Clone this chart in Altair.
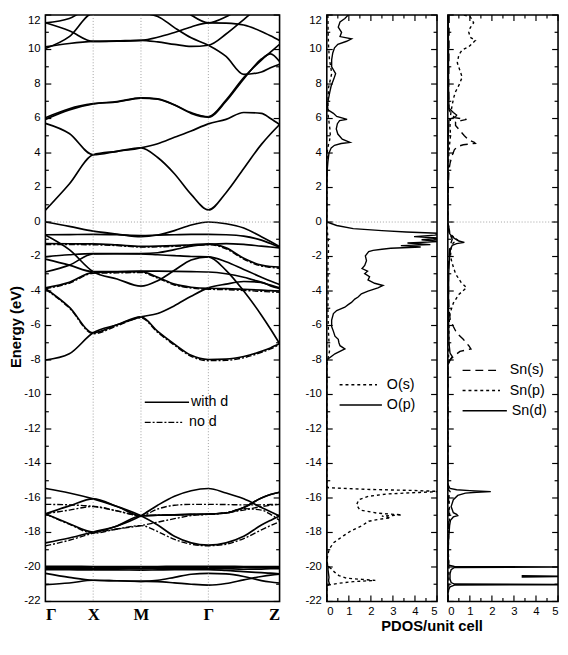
import altair as alt
import pandas as pd

# ---------------- k-path ----------------
kpath_pos = [0, 1, 2, 3.41, 4.9]
kpath_labels = ["Γ", "X", "M", "Γ", "Z"]
k_grid = [0, 0.5, 1, 1.5, 2, 2.35, 2.7, 3.05, 3.41, 3.78, 4.15, 4.52, 4.71, 4.9]

# ---------------- bands "with d" (eV, at k_grid) ----------------
cb1 = [0.68, 2.2, 3.9, 4.1, 4.3, 4.54, 4.91, 5.28, 5.69, 5.95, 6.35, 6.3, 6.0, 5.65]
cb2 = [5.72, 5.13, 3.9, 4.1, 4.3, 3.74, 2.8, 1.6, 0.7, 1.7, 3.1, 4.5, 5.1, 5.65]
cb3 = [6.05, 6.57, 6.86, 6.98, 7.2, 7.14, 6.8, 6.34, 6.1, 7.07, 8.37, 9.39, 9.85, 10.3]
cb4 = [5.95, 6.5, 6.84, 6.96, 7.18, 7.12, 6.78, 6.3, 6.08, 7.0, 8.3, 9.45, 9.75, 9.3]
cb5 = [11.55, 11.8, 12.6, 13.0, 13.0, 13.0, 13.0, 13.0, 13.0, 13.0, 13.0, 13.0, 13.0, 13.0]
cb6 = [11.55, 11.09, 10.47, 10.48, 10.53, 10.71, 10.99, 11.31, 11.55, 11.53, 11.42, 11.05, 10.8, 10.53]
cb7 = [10.06, 10.75, 12.1, 12.1, 12.1, 11.92, 11.27, 10.68, 10.25, 9.6, 8.56, 8.7, 8.95, 9.15]
cb8 = [10.16, 10.35, 10.47, 10.5, 10.53, 10.44, 10.3, 10.18, 10.25, 10.9, 11.74, 12.6, 13.0, 13.2]
cb9 = [13.0, 13.0, 13.0, 13.0, 13.0, 13.0, 12.8, 12.0, 11.55, 11.9, 12.5, 13.0, 13.0, 13.0]

vb1 = [0.0, -0.25, -0.53, -0.7, -0.85, -0.75, -0.5, -0.17, 0.0, -0.1, -0.35, -0.85, -1.13, -1.42]
vb2 = [-0.74, -0.73, -0.72, -0.74, -0.78, -0.76, -0.74, -0.72, -0.72, -0.74, -0.82, -1.05, -1.25, -1.46]
vb3 = [-0.75, -1.6, -2.88, -3.3, -3.72, -3.4, -2.8, -2.2, -2.02, -2.3, -2.75, -3.2, -3.42, -3.62]
vb4 = [-1.25, -1.26, -1.27, -1.33, -1.41, -1.4, -1.37, -1.32, -1.27, -1.5, -2.1, -2.5, -2.58, -2.62]
vb5 = [-2.02, -1.9, -1.83, -1.83, -1.85, -1.9, -1.95, -2.0, -2.02, -2.8, -4.0, -5.4, -6.2, -7.05]
vb6 = [-2.15, -2.5, -2.88, -2.87, -2.85, -2.85, -2.86, -2.88, -2.9, -3.0, -3.2, -3.5, -3.66, -3.82]
vb7 = [-2.9, -2.5, -1.85, -1.84, -1.83, -1.78, -1.6, -1.4, -1.3, -1.25, -1.3, -1.4, -1.45, -1.5]
vb8 = [-3.82, -3.5, -2.92, -2.9, -2.88, -3.2, -3.6, -3.78, -3.85, -3.86, -3.9, -3.95, -3.98, -4.0]
vb9 = [-8.0, -7.64, -6.42, -5.96, -5.5, -5.3, -4.85, -4.3, -3.82, -3.6, -3.45, -3.5, -3.7, -3.85]
vb10 = [-3.85, -4.93, -6.42, -5.96, -5.5, -6.34, -7.08, -7.73, -7.97, -7.95, -7.8, -7.5, -7.3, -7.05]

sc1 = [-15.45, -15.71, -16.05, -16.49, -17.03, -17.57, -18.22, -18.6, -18.73, -18.6, -18.22, -17.57, -17.3, -17.05]
sc2 = [-16.92, -16.46, -16.05, -16.49, -17.03, -17.0, -16.98, -16.95, -16.93, -16.87, -16.55, -16.0, -15.8, -15.67]
sc3 = [-16.92, -17.49, -17.97, -17.62, -17.03, -16.42, -15.9, -15.58, -15.45, -15.71, -16.05, -16.55, -16.8, -17.05]
sc4 = [-18.6, -18.32, -17.97, -17.62, -17.03, -17.0, -16.98, -16.95, -16.93, -16.87, -16.55, -16.0, -15.8, -15.67]

dd1 = [-19.96, -19.96, -19.97, -19.97, -19.97, -19.97, -19.96, -19.96, -19.96, -19.96, -19.97, -19.97, -19.97, -19.97]
dd2 = [-20.02, -20.02, -20.03, -20.03, -20.03, -20.03, -20.02, -20.02, -20.02, -20.02, -20.03, -20.04, -20.04, -20.04]
dd3 = [-20.08, -20.09, -20.1, -20.1, -20.1, -20.1, -20.09, -20.08, -20.08, -20.1, -20.13, -20.12, -20.1, -20.1]
dd4 = [-20.15, -20.16, -20.17, -20.17, -20.18, -20.17, -20.16, -20.16, -20.15, -20.2, -20.27, -20.33, -20.36, -20.4]
dd5 = [-20.37, -20.6, -20.77, -20.8, -20.83, -20.77, -20.6, -20.42, -20.37, -20.4, -20.55, -20.79, -20.87, -20.93]
dd6 = [-21.02, -20.93, -20.77, -20.8, -20.83, -20.85, -20.92, -21.0, -21.05, -20.96, -20.75, -20.55, -20.47, -20.42]

# ---------------- bands "no d" ----------------
nd1 = [-16.37, -16.4, -16.49, -16.75, -17.02, -16.64, -16.42, -16.37, -16.37, -16.38, -16.4, -16.4, -16.38, -16.37]
nd2 = [-16.92, -16.7, -16.49, -16.75, -17.02, -17.0, -16.98, -16.96, -16.95, -16.85, -16.62, -16.7, -16.95, -17.3]
nd3 = [-16.92, -17.52, -18.04, -17.8, -17.6, -17.4, -17.2, -17.02, -16.95, -16.85, -16.7, -16.5, -16.42, -16.37]
nd4 = [-18.78, -18.45, -18.04, -17.8, -17.6, -17.95, -18.4, -18.68, -18.77, -18.68, -18.35, -17.85, -17.6, -17.37]
nv1 = [-1.3, -1.31, -1.32, -1.37, -1.45, -1.44, -1.41, -1.36, -1.32, -1.55, -2.15, -2.55, -2.63, -2.68]
nv2 = [-3.9, -4.98, -6.48, -6.02, -5.56, -6.4, -7.14, -7.79, -8.04, -8.02, -7.87, -7.56, -7.36, -7.1]
nv3 = [-3.87, -3.55, -2.97, -2.95, -2.93, -3.25, -3.65, -3.83, -3.9, -3.92, -3.97, -4.02, -4.05, -4.07]

with_d = [cb1, cb2, cb3, cb4, cb5, cb6, cb7, cb8, cb9,
          vb1, vb2, vb3, vb4, vb5, vb6, vb7, vb8, vb9, vb10,
          sc1, sc2, sc3, sc4, dd1, dd2, dd3, dd4, dd5, dd6]
no_d = [nd1, nd2, nd3, nd4, nv1, nv2, nv3]

# ---------------- PDOS (E eV, states) ----------------
O_s = [(12.0, 0.05), (11.0, 0.06), (10.2, 0.08), (9.4, 0.12), (9.0, 0.18), (8.6, 0.22), (8.2, 0.15),
       (7.8, 0.08), (7.0, 0.05), (6.2, 0.06), (5.8, 0.1), (5.4, 0.14), (5.0, 0.16), (4.7, 0.12),
       (4.5, 0.08), (4.2, 0.03), (3.5, 0.01), (0.7, 0.0), (0.0, 0.0), (-0.6, 0.03), (-1.0, 0.06),
       (-1.5, 0.08), (-2.5, 0.05), (-3.8, 0.06), (-5.0, 0.05), (-6.2, 0.07), (-7.0, 0.1), (-7.5, 0.12),
       (-8.0, 0.04), (-8.3, 0.0), (-15.2, 0.0), (-15.4, 0.05), (-15.5, 1.8), (-15.56, 3.8), (-15.62, 5.2),
       (-15.68, 4.2), (-15.76, 2.8), (-15.9, 1.9), (-16.1, 1.45), (-16.4, 1.35), (-16.7, 1.5),
       (-16.88, 2.3), (-16.98, 3.4), (-17.05, 2.5), (-17.15, 2.9), (-17.25, 2.3), (-17.35, 1.9),
       (-17.6, 1.6), (-17.9, 1.1), (-18.2, 0.75), (-18.6, 0.3), (-19.0, 0.1), (-19.6, 0.0),
       (-19.95, 0.05), (-20.1, 0.2), (-20.3, 0.35), (-20.5, 0.55), (-20.65, 0.9), (-20.72, 1.6),
       (-20.78, 2.2), (-20.85, 1.2), (-20.95, 0.5), (-21.05, 0.08), (-21.2, 0.0), (-22.0, 0.0)]
O_p = [(12.0, 0.97), (11.8, 0.82), (11.6, 0.6), (11.3, 0.52), (11.0, 0.67), (10.75, 0.6), (10.62, 1.12),
       (10.48, 0.9), (10.3, 0.5), (10.1, 0.35), (9.8, 0.27), (9.4, 0.22), (9.0, 0.22), (8.6, 0.4),
       (8.3, 0.32), (7.9, 0.2), (7.5, 0.13), (7.1, 0.07), (6.8, 0.03), (6.5, 0.05), (6.3, 0.3),
       (6.12, 0.45), (5.95, 0.92), (5.88, 0.58), (5.7, 0.48), (5.4, 0.43), (5.1, 0.5), (4.8, 0.7),
       (4.62, 1.05), (4.55, 0.65), (4.45, 0.35), (4.3, 0.2), (4.0, 0.1), (3.5, 0.05), (3.0, 0.02),
       (2.0, 0.0), (0.0, 0.0), (-0.2, 0.45), (-0.38, 1.2), (-0.5, 2.5), (-0.58, 3.6), (-0.66, 5.3),
       (-0.76, 4.9), (-0.85, 3.96), (-0.94, 5.2), (-1.03, 4.3), (-1.13, 5.2), (-1.22, 3.66),
       (-1.31, 4.7), (-1.37, 3.36), (-1.45, 4.26), (-1.52, 2.9), (-1.58, 2.5), (-1.64, 2.1),
       (-1.72, 1.9), (-1.96, 1.75), (-2.24, 1.8), (-2.52, 1.72), (-2.7, 1.6), (-2.85, 1.85),
       (-2.99, 1.72), (-3.17, 1.94), (-3.36, 1.87), (-3.55, 2.17), (-3.68, 2.55), (-3.82, 2.32),
       (-4.01, 1.87), (-4.16, 1.57), (-4.35, 1.42), (-4.47, 1.27), (-4.66, 1.12), (-4.79, 0.97),
       (-4.94, 0.82), (-5.13, 0.45), (-5.31, 0.3), (-5.68, 0.22), (-6.06, 0.22), (-6.34, 0.3),
       (-6.62, 0.37), (-6.8, 0.52), (-7.0, 0.55), (-7.17, 0.6), (-7.36, 0.82), (-7.64, 0.37),
       (-7.92, 0.07), (-8.05, 0.0), (-19.9, 0.0), (-20.0, 0.1), (-20.1, 0.05), (-20.4, 0.08),
       (-20.6, 0.1), (-20.8, 0.08), (-21.0, 0.12), (-21.1, 0.0), (-22.0, 0.0)]
Sn_s = [(12.0, 0.06), (10.0, 0.05), (8.0, 0.04), (6.5, 0.05), (6.05, 0.3), (5.95, 0.85), (5.88, 0.6),
        (5.8, 0.35), (5.6, 0.35), (5.3, 0.55), (5.0, 0.75), (4.75, 0.95), (4.62, 1.2), (4.56, 1.25),
        (4.48, 0.7), (4.38, 0.45), (4.2, 0.3), (3.8, 0.18), (3.4, 0.1), (3.0, 0.05), (2.0, 0.02),
        (0.7, 0.0), (0.0, 0.0), (-0.7, 0.1), (-1.0, 0.2), (-1.3, 0.12), (-1.6, 0.08), (-2.5, 0.03),
        (-4.0, 0.03), (-5.0, 0.05), (-5.6, 0.1), (-6.06, 0.25), (-6.43, 0.4), (-6.8, 0.7),
        (-7.17, 0.95), (-7.36, 1.05), (-7.5, 0.55), (-7.8, 0.25), (-8.0, 0.1), (-8.3, 0.0),
        (-15.3, 0.0), (-15.6, 0.05), (-16.0, 0.03), (-17.0, 0.05), (-18.0, 0.03), (-19.0, 0.0), (-22.0, 0.0)]
Sn_p = [(12.0, 0.73), (11.9, 1.02), (11.55, 1.17), (11.27, 1.02), (11.0, 0.95), (10.71, 1.02),
        (10.53, 1.25), (10.34, 1.1), (10.16, 0.95), (9.97, 0.65), (9.69, 0.5), (9.23, 0.43),
        (8.67, 0.58), (8.39, 0.65), (7.92, 0.5), (7.55, 0.35), (7.27, 0.28), (6.81, 0.2),
        (6.25, 0.13), (5.6, 0.1), (5.0, 0.12), (4.5, 0.08), (4.0, 0.05), (3.0, 0.02), (2.0, 0.01),
        (0.7, 0.0), (0.0, 0.0), (-0.7, 0.1), (-0.95, 0.35), (-1.05, 0.45), (-1.2, 0.25), (-1.5, 0.15),
        (-2.0, 0.12), (-2.4, 0.2), (-3.0, 0.35), (-3.5, 0.6), (-3.8, 0.85), (-4.2, 0.5), (-4.7, 0.25),
        (-5.3, 0.1), (-6.0, 0.05), (-7.0, 0.05), (-8.0, 0.03), (-8.3, 0.0), (-15.5, 0.0),
        (-15.62, 0.1), (-15.8, 0.05), (-17.0, 0.08), (-18.0, 0.04), (-19.0, 0.02), (-20.0, 0.05),
        (-20.5, 0.05), (-21.0, 0.05), (-22.0, 0.0)]
Sn_d = [(12.0, 0.02), (10.0, 0.03), (8.0, 0.03), (6.6, 0.05), (6.35, 0.25), (6.2, 0.4), (6.1, 0.35),
        (6.0, 0.15), (5.9, 0.05), (5.0, 0.02), (4.0, 0.01), (0.7, 0.0), (0.0, 0.0), (-0.6, 0.05),
        (-0.8, 0.15), (-0.95, 0.3), (-1.1, 0.5), (-1.18, 0.75), (-1.25, 0.4), (-1.35, 0.2),
        (-1.6, 0.12), (-2.0, 0.08), (-3.0, 0.04), (-5.0, 0.03), (-7.0, 0.05), (-7.6, 0.1),
        (-7.8, 0.2), (-8.0, 0.1), (-8.3, 0.0), (-15.2, 0.0), (-15.45, 0.1), (-15.52, 0.4),
        (-15.57, 1.0), (-15.6, 1.5), (-15.63, 1.95), (-15.67, 1.3), (-15.72, 0.8), (-15.85, 0.45),
        (-16.1, 0.25), (-16.5, 0.15), (-16.85, 0.25), (-16.95, 0.4), (-17.02, 0.45), (-17.1, 0.25),
        (-17.3, 0.12), (-17.6, 0.08), (-18.5, 0.03), (-19.5, 0.02), (-19.9, 0.05), (-19.97, 0.3),
        (-20.0, 7.0), (-20.03, 0.3), (-20.15, 0.15), (-20.4, 0.1), (-20.7, 0.1), (-20.9, 0.15),
        (-20.99, 0.3), (-21.02, 7.0), (-21.05, 0.3), (-21.15, 0.1), (-21.4, 0.0), (-22.0, 0.0)]
Sn_d_peak = [(-20.51, 3.35), (-20.55, 5.6), (-20.59, 3.35)]

band_legend = ["with d", "no d"]
o_legend = ["O(s)", "O(p)"]
sn_legend = ["Sn(s)", "Sn(p)", "Sn(d)"]
energy_title = ["Energy (eV)"]

y_major = [-22, -20, -18, -16, -14, -12, -10, -8, -6, -4, -2, 0, 2, 4, 6, 8, 10, 12]
y_minor = [-21, -19, -17, -15, -13, -11, -9, -7, -5, -3, -1, 1, 3, 5, 7, 9, 11]
x_major = [0, 1, 2, 3, 4, 5]
x_minor = [0.5, 1.5, 2.5, 3.5, 4.5]

# ---------------- styles / layout ----------------
SOLID = None
DASHDOT = [6, 2, 2, 2]
DOTTED = [3, 3]
DASHED = [8, 5]
FONT = "Liberation Sans"
BW, PW, H = 238, 112, 596
SY = H / 609.0   # vertical scale of legend placement relative to the reference frame

yscale = alt.Scale(domain=[-22, 12], nice=False, zero=False)
kscale = alt.Scale(domain=[0, 4.9], nice=False, zero=False)
dscale = alt.Scale(domain=[0, 5], nice=False, zero=False)


def band_table(bands):
    rows = []
    for b, vals in enumerate(bands):
        for k, e in zip(k_grid, vals):
            rows.append({"band": b, "k": k, "E": e})
    return pd.DataFrame(rows)


def pdos_table(pairs):
    return pd.DataFrame({"E": [p[0] for p in pairs], "DOS": [p[1] for p in pairs],
                         "i": list(range(len(pairs)))})


def k_label_expr():
    expr = "''"
    for p, lab in reversed(list(zip(kpath_pos, kpath_labels))):
        expr = f"abs(datum.value - {p}) < 0.01 ? '{lab}' : ({expr})"
    return expr


k_axis = alt.Axis(values=kpath_pos, labelExpr=k_label_expr(), ticks=False, domain=False, grid=False,
                  labelFont="Liberation Serif", labelFontWeight="bold", labelFontSize=17,
                  labelPadding=5, labelColor="black", title=None)
d_axis = alt.Axis(values=x_major, format="d", ticks=False, domain=False, grid=False, labelFont=FONT,
                  labelFontSize=11.5, labelColor="black", labelPadding=4, title=None)
Y = alt.Y("E:Q", scale=yscale, axis=None)


def y_label_layers():
    # energy tick labels drawn on the scale; the top one hangs below its tick
    mid = [v for v in y_major if v < 12]
    top = [v for v in y_major if v >= 12]
    out = []
    for vals, base in ((mid, "middle"), (top, "top")):
        df = pd.DataFrame({"E": vals, "lab": [str(v) for v in vals]})
        out.append(alt.Chart(df).mark_text(align="right", baseline=base, dx=-5, font=FONT,
                                           fontSize=11.5, color="black").encode(
            y=Y, x=alt.value(0), text="lab:N"))
    return out


def y_tick_layers(W):
    out = []
    for vals, L in ((y_major, 6), (y_minor, 3.5)):
        base = alt.Chart(pd.DataFrame({"E": vals})).mark_rule(color="black", strokeWidth=1.2)
        out.append(base.encode(y=Y, x=alt.value(0), x2=alt.value(L)))
        out.append(base.encode(y=Y, x=alt.value(W - L), x2=alt.value(W)))
    return out


def x_tick_layers(xaxis):
    out = []
    for vals, L in ((x_major, 6), (x_minor, 3.5)):
        base = alt.Chart(pd.DataFrame({"DOS": vals})).mark_rule(color="black", strokeWidth=1.2)
        x = alt.X("DOS:Q", scale=dscale, axis=xaxis)
        out.append(base.encode(x=x, y=alt.value(0), y2=alt.value(L)))
        out.append(base.encode(x=x, y=alt.value(H - L), y2=alt.value(H)))
    return out


def legend_entry(label, x1, x2, y, dash, tx):
    df = pd.DataFrame({"label": [label]})
    mk = dict(color="black", strokeWidth=1.5)
    if dash:
        mk["strokeDash"] = dash
    yy = y * SY
    line = alt.Chart(df).mark_rule(**mk).encode(x=alt.value(x1), x2=alt.value(x2), y=alt.value(yy))
    text = alt.Chart(df).mark_text(align="left", baseline="middle", fontSize=14.5, font=FONT,
                                   color="black").encode(x=alt.value(tx), y=alt.value(yy), text="label:N")
    return [line, text]


def zero_line():
    return alt.Chart(pd.DataFrame({"E": [0]})).mark_rule(
        color="#777", strokeWidth=0.7, strokeDash=[1, 2]).encode(y=Y)


def pdos_line(pairs, dash, xaxis, width=1.4):
    mk = dict(clip=True, color="black", strokeWidth=width)
    if dash:
        mk["strokeDash"] = dash
    return alt.Chart(pdos_table(pairs)).mark_line(**mk).encode(
        x=alt.X("DOS:Q", scale=dscale, axis=xaxis), y=Y, order="i:Q")


# ---------------- band panel ----------------
grid = alt.Chart(pd.DataFrame({"k": kpath_pos[1:4]})).mark_rule(
    color="#777", strokeWidth=0.7, strokeDash=[1, 2]).encode(x=alt.X("k:Q", scale=kscale, axis=k_axis))

lines_nod = alt.Chart(band_table(no_d)).mark_line(
    interpolate="monotone", clip=True, color="black", strokeWidth=1.4, strokeDash=DASHDOT).encode(
    x=alt.X("k:Q", scale=kscale, axis=k_axis), y=Y, detail="band:N")

lines_d = alt.Chart(band_table(with_d)).mark_line(
    interpolate="monotone", clip=True, color="black", strokeWidth=1.7).encode(
    x=alt.X("k:Q", scale=kscale, axis=k_axis), y=Y, detail="band:N")

ytitle = alt.Chart(pd.DataFrame({"t": energy_title})).mark_text(
    angle=270, align="center", baseline="middle", font=FONT, fontSize=15, fontWeight="bold",
    color="black").encode(x=alt.value(-30), y=alt.value(324 * SY), text="t:N")

band_layers = [lines_d, grid, zero_line(), lines_nod, ytitle] + y_label_layers() + y_tick_layers(BW)
band_layers += legend_entry(band_legend[0], 101, 146, 402, SOLID, 148)
band_layers += legend_entry(band_legend[1], 101, 139, 423, DASHDOT, 146)
band = alt.layer(*band_layers).properties(width=BW, height=H)

# ---------------- PDOS panels ----------------
p1_layers = [pdos_line(O_p, SOLID, d_axis), zero_line(), pdos_line(O_s, DOTTED, d_axis)]
p1_layers += y_label_layers() + y_tick_layers(PW) + x_tick_layers(d_axis)
p1_layers += legend_entry(o_legend[0], 13, 51, 384, DOTTED, 61)
p1_layers += legend_entry(o_legend[1], 13, 56, 405, SOLID, 61)
p1 = alt.layer(*p1_layers).properties(width=PW, height=H)

p2_layers = [pdos_line(Sn_d, SOLID, d_axis), zero_line(), pdos_line(Sn_d_peak, SOLID, d_axis),
             pdos_line(Sn_s, DASHED, d_axis), pdos_line(Sn_p, DOTTED, d_axis)]
p2_layers += y_tick_layers(PW) + x_tick_layers(d_axis)
p2_layers += legend_entry(sn_legend[0], 15, 53, 369, DASHED, 63)
p2_layers += legend_entry(sn_legend[1], 15, 53, 390, DOTTED, 63)
p2_layers += legend_entry(sn_legend[2], 15, 60, 411, SOLID, 65)
p2 = alt.layer(*p2_layers).properties(width=PW, height=H)

pdos = alt.hconcat(p1, p2, spacing=7).properties(
    title=alt.TitleParams("PDOS/unit cell", orient="bottom", anchor="middle", font=FONT,
                          fontSize=15, fontWeight="bold", color="black", offset=2))

chart = alt.hconcat(band, pdos, spacing=23).properties(
    padding={"left": 0, "right": 0, "top": 0, "bottom": 0}
).configure(padding=0).configure_view(stroke="black", strokeWidth=1.6)

chart.save("out.html", embed_options={"renderer": "svg", "actions": False})
